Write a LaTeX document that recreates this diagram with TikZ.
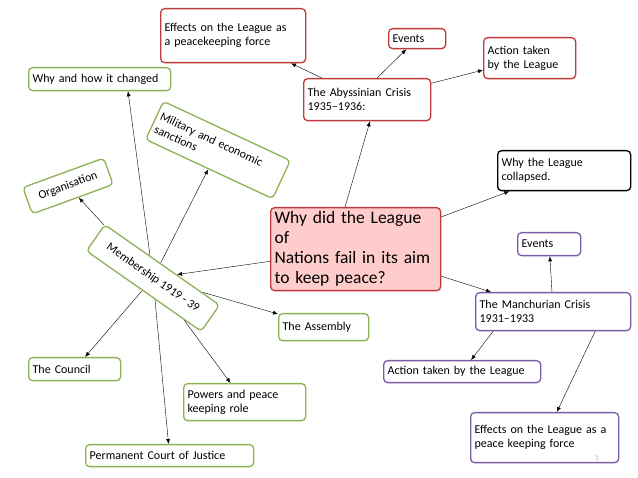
\documentclass[tikz,border=0pt]{standalone}
\usepackage{fontspec}
\setmainfont{Carlito}
\usetikzlibrary{arrows.meta}
\pgfdeclarelayer{bg}\pgfsetlayers{bg,main}
\definecolor{gr}{HTML}{8DB255}
\definecolor{rd}{HTML}{C0393B}
\definecolor{pu}{HTML}{7A5BA6}
\tikzset{
 bx/.style={draw, line width=1.3pt, rounded corners=4pt, fill=white, align=left, font=\fontsize{12}{14}\selectfont, inner xsep=4pt, inner ysep=2pt, anchor=north west},
 g/.style={bx, draw=gr}, r/.style={bx, draw=rd}, p/.style={bx, draw=pu},
 ar/.style={-{Latex[length=5pt,width=4pt]}, thin}
}
\begin{document}
\begin{tikzpicture}[x=1pt,y=-1pt]
\useasboundingbox (0,0) rectangle (638,478);
\node[r, minimum width=145pt, minimum height=54pt, text width=137pt] (eff1) at (160,8) {Effects on the League as\\a peacekeeping force\\[8pt]};
\node[r, minimum width=57pt, minimum height=20pt, text width=49pt] (ev1) at (388,28) {Events};
\node[r, minimum width=92pt, minimum height=41pt, text width=84pt] (act1) at (483,37) {Action taken\\by the League};
\node[g, minimum width=142pt, minimum height=23pt, text width=134pt] (why) at (28,67) {Why and how it changed};
\node[r, minimum width=127pt, minimum height=42pt, text width=119pt] (aby) at (303,78) {The Abyssinian Crisis\\1935--1936:};
\node[g, rotate=-25, anchor=center, minimum width=140pt, minimum height=42pt, text width=132pt] (mil) at (218,150) {Military and economic\\sanctions};
\node[g, rotate=20, anchor=center, minimum width=86pt, minimum height=28pt, align=center] (org) at (68,186) {Organisation};
\node[bx, draw=black, minimum width=133pt, minimum height=40pt, text width=125pt] (col) at (497,150) {Why the League\\collapsed.};
\node[bx, draw=rd, fill=red!20, minimum width=170pt, minimum height=63pt, text width=162pt, font=\fontsize{17.5}{20}\selectfont, inner sep=4pt] (c) at (270,207) {Why did the League of\\Nations fail in its aim\\to keep peace?};
\node[p, minimum width=63pt, minimum height=23pt, text width=55pt] (ev2) at (517,232) {Events};
\node[g, rotate=-35, anchor=center, minimum width=140pt, minimum height=32pt, align=center] (mem) at (153,278) {Membership 1919 - 39};
\node[p, minimum width=155pt, minimum height=38pt, text width=147pt] (man) at (475,292) {The Manchurian Crisis\\1931--1933};
\node[g, minimum width=90pt, minimum height=27pt, text width=82pt] (ass) at (278,313) {The Assembly};
\node[g, minimum width=92pt, minimum height=23pt, text width=84pt] (cou) at (28,357) {The Council};
\node[p, minimum width=157pt, minimum height=22pt, text width=149pt] (act2) at (383,360) {Action taken by the League};
\node[g, minimum width=122pt, minimum height=37pt, text width=114pt] (pow) at (183,383) {Powers and peace\\keeping role};
\node[p, minimum width=148pt, minimum height=50pt, text width=144pt, inner xsep=2pt] (eff2) at (470,412) {\hspace{2pt}Effects on the League as a\\\hspace*{2pt}peace keeping force\\[4pt]};
\node[g, minimum width=168pt, minimum height=22pt, text width=160pt] (pc) at (85,444) {Permanent Court of Justice};
\node[text=gray!60, font=\fontsize{7}{8}\selectfont] (pg) at (597,458) {3};
\begin{pgfonlayer}{bg}
\draw[ar] (c) -- (mem);
\draw[ar] (c.north west) ++(75,0) -- (aby.south -| 370,0);
\draw[ar] (aby) -- (eff1);
\draw[ar] (aby.north) ++(10,0) -- (ev1);
\draw[ar] (aby) -- (act1);
\draw[ar] (c) -- (col);
\draw[ar] (c) -- (man);
\draw[ar] (man) -- (ev2);
\draw[ar] (man.south) ++(-60,0) -- (act2);
\draw[ar] (man.south) ++(42,0) -- (eff2);
\draw[ar] (mem) -- (org);
\draw[ar] (mem) -- (mil);
\draw[ar] (mem) -- (ass);
\draw[ar] (mem) -- (cou);
\draw[ar] (mem) -- (pow);
\draw[ar] (mem) -- (pc);
\draw[ar] (mem) -- (why.south -| 128,0);
\end{pgfonlayer}
\end{tikzpicture}
\end{document}
